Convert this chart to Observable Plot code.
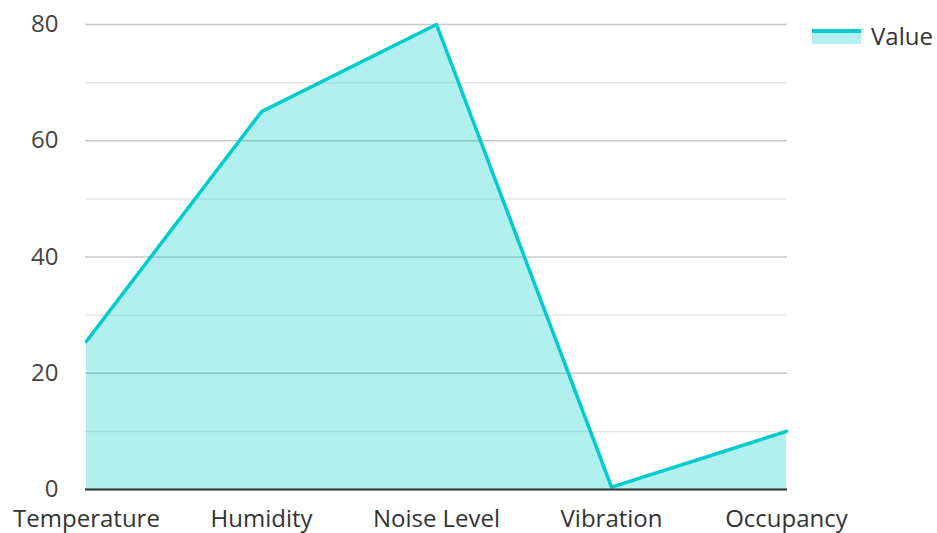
<!DOCTYPE html>
<html>
<head>
<meta charset="utf-8">
<script src="https://cdn.jsdelivr.net/npm/d3@7"></script>
<script src="https://cdn.jsdelivr.net/npm/@observablehq/plot@0.6"></script>
<style>
  html, body { margin: 0; padding: 0; background: #fff; }
  #wrap { position: relative; width: 937px; height: 533px; font-family: "Open Sans", sans-serif; }
  #legend { position: absolute; left: 812px; top: 19px; display: flex; align-items: center; font-size: 24px; color: #333; line-height: 34px; }
  #legend .sw { width: 49px; height: 15px; background: rgba(0,204,204,0.3); border-top: 4px solid #00cccc; box-sizing: border-box; margin-right: 10px; }
</style>
</head>
<body>
<div id="wrap"><div id="legend"><div class="sw"></div><span>Value</span></div></div>
<script>
const categories = ["Temperature", "Humidity", "Noise Level", "Vibration", "Occupancy"];
const values = [25.5, 65, 80, 0.4, 10];
const majorTicks = [0, 20, 40, 60, 80];
const minorTicks = [10, 30, 50, 70];

const data = categories.map((c, i) => ({category: c, value: values[i]}));

const chart = Plot.plot({
  width: 937,
  height: 533,
  marginLeft: 85,
  marginRight: 150,
  marginTop: 24,
  marginBottom: 44,
  style: {fontFamily: "Open Sans, sans-serif", fontSize: "24px", color: "#444", background: "#fff", overflow: "visible"},
  x: {type: "point", domain: categories, padding: 0, label: null},
  y: {domain: [0, 80], label: null},
  marks: [
    Plot.ruleY(minorTicks, {stroke: "#e6e6e6", strokeWidth: 1.5}),
    Plot.ruleY(majorTicks, {stroke: "#c8c8c8", strokeWidth: 1.5}),
    Plot.areaY(data, {x: "category", y: "value", fill: "#00cccc", fillOpacity: 0.3}),
    Plot.lineY(data, {x: "category", y: "value", stroke: "#00cccc", strokeWidth: 3.5}),
    Plot.ruleY([0], {stroke: "#333", strokeWidth: 2}),
    Plot.axisY(majorTicks, {tickSize: 0, tickPadding: 27, fontSize: 24, fill: "#444"}),
    Plot.axisX({tickSize: 0, tickPadding: 20, fontSize: 24, fill: "#333"})
  ]
});
document.getElementById("wrap").prepend(chart);
</script>
</body>
</html>
